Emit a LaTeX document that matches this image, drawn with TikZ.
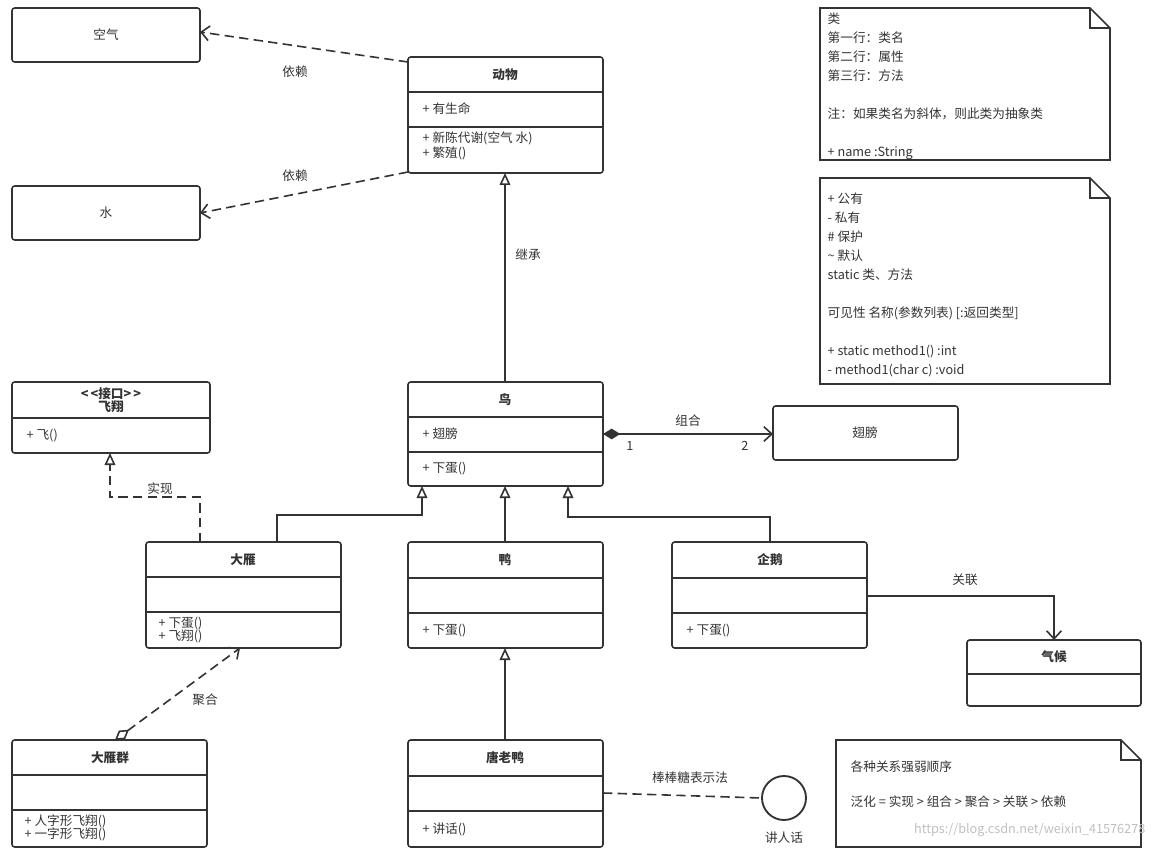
\documentclass[tikz,border=0pt]{standalone}
\usepackage{fontspec}
\setmainfont{Liberation Sans}
\newfontfamily\cjk{Noto Sans CJK SC}
\usetikzlibrary{arrows.meta}
\begin{document}
\begin{tikzpicture}[x=0.75pt,y=-0.75pt,
  every node/.style={font=\cjk\fontsize{9.5}{11}\selectfont,text=black!80},
  bt/.style={font=\cjk\bfseries\fontsize{9.5}{11}\selectfont},
  box/.style={draw=black!80,line width=1.2pt,rounded corners=2pt},
  sep/.style={draw=black!80,line width=1.1pt},
  lnk/.style={draw=black!80,line width=1.2pt},
  dsh/.style={lnk,dash pattern=on 7pt off 4pt},
  inh/.style={-{Triangle[open,length=9pt,width=8pt]}},
  opn/.style={-{Straight Barb[length=6pt,width=11pt]}},
  note/.style={draw=black!80,line width=1.2pt}]
\useasboundingbox (0,0) rectangle (1157,859);
% simple boxes
\draw[box] (12,8) rectangle (200,62); \node (kq) at (106,35) {空气};
\draw[box] (12,186) rectangle (200,240); \node (sh) at (106,213) {水};
\draw[box] (773,406) rectangle (958,460); \node (cb) at (865,433) {翅膀};
% 动物
\draw[box] (408,57) rectangle (603,173); \draw[sep] (408,92)--(603,92) (408,127)--(603,127);
\node[bt] (dw) at (505,75) {动物};
\node[anchor=west] at (418,109) {+ 有生命};
\node[anchor=west,align=left] at (418,146) {+ 新陈代谢(空气 水)\\+ 繁殖()};
% 接口
\draw[box] (12,382) rectangle (210,453); \draw[sep] (12,418)--(210,418);
\node[font=\cjk\bfseries\fontsize{9.5}{10}\selectfont,align=center] (fx) at (111,400) {<\,<接口>\,>\\飞翔};
\node[anchor=west] at (22,436) {+ 飞()};
% 鸟
\draw[box] (408,382) rectangle (603,486); \draw[sep] (408,417)--(603,417) (408,452)--(603,452);
\node[bt] (niao) at (505,400) {鸟};
\node[anchor=west] at (418,434) {+ 翅膀};
\node[anchor=west] at (418,469) {+ 下蛋()};
% 大雁
\draw[box] (146,542) rectangle (341,648); \draw[sep] (146,577)--(341,577) (146,612)--(341,612);
\node[bt] (dy) at (243,560) {大雁};
\node[anchor=west,align=left,font=\cjk\fontsize{9.5}{10}\selectfont] at (154,630) {+ 下蛋()\\+ 飞翔()};
% 鸭
\draw[box] (408,542) rectangle (603,648); \draw[sep] (408,578)--(603,578) (408,613)--(603,613);
\node[bt] (ya) at (505,560) {鸭};
\node[anchor=west] at (418,631) {+ 下蛋()};
% 企鹅
\draw[box] (672,542) rectangle (867,648); \draw[sep] (672,578)--(867,578) (672,613)--(867,613);
\node[bt] (qe) at (770,560) {企鹅};
\node[anchor=west] at (682,631) {+ 下蛋()};
% 气候
\draw[box] (967,640) rectangle (1141,706); \draw[sep] (967,674)--(1141,674);
\node[bt] (qh) at (1054,657) {气候};
% 大雁群
\draw[box] (12,740) rectangle (207,847); \draw[sep] (12,775)--(207,775) (12,810)--(207,810);
\node[bt] (dyq) at (110,758) {大雁群};
\node[anchor=west,align=left,font=\cjk\fontsize{9.5}{10}\selectfont] at (20,828) {+ 人字形飞翔()\\+ 一字形飞翔()};
% 唐老鸭
\draw[box] (408,740) rectangle (603,847); \draw[sep] (408,776)--(603,776) (408,811)--(603,811);
\node[bt] (tly) at (505,758) {唐老鸭};
\node[anchor=west] at (418,829) {+ 讲话()};
% lollipop
\node[draw=black!80,line width=1.4pt,circle,minimum size=33pt,inner sep=0] (lp) at (784,798) {};
\node (jrh) at (784,838) {讲人话};
% notes
\draw[note] (820,8) -- (1090,8) -- (1110,28) -- (1110,160) -- (820,160) -- cycle;
\draw[note] (1090,8) -- (1090,28) -- (1110,28);
\node[anchor=north west,align=left,font=\cjk\fontsize{9.5}{14.25}\selectfont] (n1) at (823,8) {类\\第一行：类名\\第二行：属性\\第三行：方法\\[14.25pt]注：如果类名为斜体，则此类为抽象类\\[14.25pt]+ name :String};
\draw[note] (820,178) -- (1090,178) -- (1110,198) -- (1110,384) -- (820,384) -- cycle;
\draw[note] (1090,178) -- (1090,198) -- (1110,198);
\node[anchor=north west,align=left,font=\cjk\fontsize{9.5}{14.25}\selectfont] (n2) at (823,188) {+ 公有\\- 私有\\\# 保护\\\textasciitilde{} 默认\\static 类、方法\\[14.25pt]可见性 名称(参数列表) [:返回类型]\\[14.25pt]+ static method1() :int\\- method1(char c) :void};
\draw[note] (836,740) -- (1121,740) -- (1141,760) -- (1141,847) -- (836,847) -- cycle;
\draw[note] (1121,740) -- (1121,760) -- (1141,760);
\node[anchor=west] (n3a) at (846,767) {各种关系强弱顺序};
\node[anchor=west] (n3b) at (846,802) {泛化 = 实现 > 组合 > 聚合 > 关联 > 依赖};
\node[text=black!25,anchor=east] at (1150,830) {https://blog.csdn.net/weixin\_41576278};
% connectors
\coordinate (a1) at (408,62); \coordinate (a2) at (200,32);
\draw[dsh,opn] (a1) -- (a2); \node at (295,72) {依赖};
\coordinate (b1) at (408,172); \coordinate (b2) at (200,213);
\draw[dsh,opn] (b1) -- (b2); \node at (295,176) {依赖};
\draw[lnk,inh] (niao.north |- 0,382) -- (505,173); \node at (528,255) {继承};
\coordinate (c1) at (603,434); \coordinate (c2) at (773,434);
\draw[lnk,{Diamond[length=13pt,width=8pt]}-{Straight Barb[length=6pt,width=11pt]}] (c1) -- (c2);
\node at (688,421) {组合}; \node at (630,446) {1}; \node at (745,446) {2};
\draw[lnk,inh] (277,542) -- (277,515) -- (422,515) -- (422,486);
\draw[lnk,inh] (505,542) -- (505,486);
\draw[lnk,inh] (770,542) -- (770,517) -- (568,517) -- (568,486);
\draw[dsh,inh] (200,542) -- (200,497) -- (110,497) -- (110,453); \node at (160,489) {实现};
\draw[lnk,opn] (867,596) -- (1054,596) -- (1054,640); \node at (965,580) {关联};
\draw[dsh,{Diamond[open,length=13pt,width=8pt]}-{Straight Barb[length=6pt,width=11pt]}] (115,740) -- (240,648);
\node at (205,700) {聚合};
\draw[lnk,inh] (505,740) -- (505,648);
\draw[dsh] (603,793) -- (lp.west); \node at (690,778) {棒棒糖表示法};
\end{tikzpicture}
\end{document}
